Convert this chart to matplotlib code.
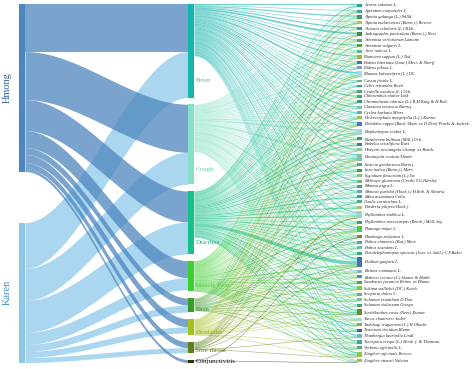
import numpy as np
import matplotlib.pyplot as plt

plt.rcParams['font.family'] = ['Liberation Serif', 'DejaVu Serif']

groups = ['Hmong', 'Karen']
group_colors = ['#4d86bd', '#8fc9ea']
group_label_colors = ['#2f5f96', '#3d8cc9']

diseases = ['Fever', 'Cough', 'Diarrhea', 'Muscle Pain', 'Rash', 'Headache',
            'Sore throat', 'Conjunctivitis']
disease_colors = ['#15b5ad', '#86e0c8', '#17c08a', '#3ccf30', '#3a9c2a',
                  '#a4c21e', '#5f7f19', '#2e3410']
disease_label_colors = ['#35b8b0', '#5ccfb0', '#1db886', '#55c840', '#3a9c2a',
                        '#98b41e', '#5f7f19', '#222222']

hmong_uses = [48, 48, 31, 17, 7, 8, 6, 3]
karen_uses = [46, 32, 32, 12, 7, 6, 5, 0]

species = [
    'Acorus calamus L.', 'Ageratum conyzoides L.', 'Alpinia galanga (L.) Willd.',
    'Alpinia malaccensis (Burm.f.) Roscoe', 'Alstonia scholaris (L.) R.Br.',
    'Andrographis paniculata (Burm.f.) Nees', 'Artemisia verlotiorum Lamotte',
    'Artemisia vulgaris L.', 'Aster indicus L.', 'Biancaea sappan (L.) Tod.',
    'Bidens biternata (Lour.) Merr. & Sherff', 'Bidens pilosa L.',
    'Blumea balsamifera (L.) DC.', 'Cassia fistula L.', 'Celtis tetrandra Roxb.',
    'Centella asiatica (L.) Urb.', 'Chloranthus elatior Link',
    'Chromolaena odorata (L.) R.M.King & H.Rob.', 'Clausena excavata Burm.f.',
    'Cyclea barbata Miers', 'Dichrocephala integrifolia (L.f.) Kuntze',
    'Duhaldea cappa (Buch.-Ham. ex D.Don) Pruski & Anderb.', 'Elephantopus scaber L.',
    'Eleutherine bulbosa (Mill.) Urb.', 'Embelia sessiliflora Kurz',
    'Hedyotis acutangula Champ. ex Benth.', 'Houttuynia cordata Thunb.',
    'Justicia gendarussa Burm.f.', 'Leea indica (Burm.f.) Merr.',
    'Lygodium flexuosum (L.) Sw.', 'Melicope glomerata (Craib) T.G.Hartley',
    'Mimosa pigra L.', 'Monosis parishii (Hook.f.) H.Rob. & Skvarla',
    'Musa acuminata Colla', 'Oxalis corniculata L.', 'Paederia pilifera Hook.f.',
    'Phyllanthus emblica L.', 'Phyllanthus microcarpus (Benth.) Müll.Arg.',
    'Plantago major L.', 'Plumbago zeylanica L.', 'Pothos chinensis (Raf.) Merr.',
    'Pothos scandens L.', 'Pseudelephantopus spicatus (Juss. ex Aubl.) C.F.Baker',
    'Psidium guajava L.', 'Ricinus communis L.', 'Rotheca serrata (L.) Steane & Mabb.',
    'Sambucus javanica Reinw. ex Blume', 'Schima wallichii (DC.) Korth.',
    'Scoparia dulcis L.', 'Solanum erianthum D.Don', 'Solanum violaceum Ortega',
    'Strobilanthes cusia (Nees) Kuntze', 'Tacca chantrieri André',
    'Tadehagi triquetrum (L.) H.Ohashi', 'Teucrium viscidum Blume',
    'Thunbergia laurifolia Lindl.', 'Tinospora crispa (L.) Hook. f. & Thomson',
    'Verbena officinalis L.', 'Zingiber officinale Roscoe', 'Zingiber ottensii Valeton',
]

species_colors = [
    '#2f9e8a', '#39a9a0', '#3b9b5e', '#a8c45a', '#2aa7a0', '#3a8f3a', '#4ca77a',
    '#5c9e48', '#56c07a', '#b0a84a', '#4b6fae', '#7aa0c8', '#a9d2ee', '#63b57a',
    '#2c9c9a', '#4caa68', '#35a88e', '#3e9c6a', '#7cc8a8', '#58b4a0', '#9dbb55',
    '#4a78b8', '#a8d0ea', '#3aa060', '#3c7db0', '#8fc68a', '#7cc8a0', '#5aa86a',
    '#3d9e4a', '#8cc06a', '#6fb86f', '#4a9e8e', '#6aa8b8', '#3aa098', '#4db08c',
    '#a8c060', '#9fd4c0', '#3a9e7a', '#4cc84a', '#7a8a2a', '#5aa0b0', '#6ab8a0',
    '#3ea868', '#4a70b0', '#8aaed0', '#4a8fb0', '#3aa878', '#8ec43a', '#5ab098',
    '#7cc090', '#4aa070', '#6a8a28', '#a8d8d0', '#9aaa40', '#4060a8', '#7ab0d8',
    '#3ea890', '#5aa86a', '#8cc840', '#a0c050',
]

# Fever, Cough, Diarrhea, Muscle Pain, Rash, Headache, Sore throat, Conjunctivitis
species_uses = [
    [1.2, .6, 1.2, 0, 0, .6, 0, 0],
    [.6, .6, .6, .6, .6, 0, 0, 0],
    [1.2, .6, .6, .6, 0, .6, 0, 0],
    [.6, .6, 1.2, .6, 0, 0, 0, 0],
    [1.2, .6, .6, 0, 0, .6, 0, 0],
    [1.8, .6, .6, 0, 0, .6, .6, 0],
    [.6, .6, .6, .6, 0, .6, 0, 0],
    [1.2, .6, 0, .6, .6, 0, 0, 0],
    [.6, 1.2, .6, 0, 0, .6, 0, 0],
    [1.2, .6, .6, .6, 0, 0, .6, 0],
    [.6, .6, .6, .6, .6, 0, 0, 0],
    [.6, .6, .6, 0, .6, 0, 0, 0],
    [1.8, 1.2, .6, 1.2, 0, .6, .6, 0],
    [.6, .6, 1.2, 0, 0, 0, 0, 0],
    [.6, .6, .6, .6, 0, 0, 0, 0],
    [.6, .6, .6, 0, .6, 0, .6, 0],
    [1.2, .6, 0, .6, 0, .6, 0, 0],
    [.6, .6, .6, .6, .6, 0, 0, 0],
    [1.2, .6, .6, 0, 0, .6, 0, 0],
    [1.2, .6, .6, 0, 0, 0, 0, 0],
    [.6, .6, .6, .6, 0, 0, .6, 0],
    [1.2, 1.2, .6, .6, 0, .6, .6, 0],
    [1.2, 1.8, 1.2, .6, .6, .6, 0, 0],
    [.6, .6, 1.2, 0, 0, .6, 0, 0],
    [.6, .6, 1.2, .6, 0, 0, 0, 0],
    [1.2, .6, .6, 0, 0, 0, .6, 0],
    [1.2, 2.4, 1.2, .6, .6, .6, .6, 0],
    [.6, .6, .6, .6, .6, 0, 0, 0],
    [.6, .6, 1.2, .6, 0, 0, 0, 0],
    [.6, 1.2, .6, 0, 0, .6, 0, 0],
    [1.2, .6, .6, .6, 0, 0, 0, 0],
    [.6, .6, .6, 0, .6, 0, 0, 0],
    [1.2, .6, .6, .6, 0, 0, 0, 0],
    [.6, .6, 1.2, 0, 0, 0, 0, 0],
    [.6, .6, .6, .6, .6, 0, 0, 0],
    [.6, .6, 1.2, .6, 0, 0, 0, 0],
    [1.2, 2.4, 1.2, .6, 0, .6, 1.2, 0],
    [.6, .6, .6, .6, 0, .6, 0, 0],
    [1.2, 1.2, 1.2, 1.2, .6, .6, 0, 0],
    [.6, .6, .6, .6, .6, 0, 0, .6],
    [.6, .6, .6, .6, .6, 0, 0, 0],
    [.6, .6, .6, .6, 0, .6, 0, 0],
    [.6, 1.2, .6, .6, 0, 0, 0, 0],
    [1.8, 1.8, 3.6, 1.2, .6, .6, .6, 0],
    [.6, .6, .6, .6, .6, 0, 0, 0],
    [.6, .6, .6, .6, 0, .6, 0, 0],
    [.6, .6, 0, 1.2, .6, 0, 0, 0],
    [1.2, .6, 1.2, .6, 0, .6, 0, 0],
    [.6, .6, .6, .6, 0, .6, 0, 0],
    [.6, .6, .6, .6, .6, 0, 0, 0],
    [.6, 1.2, 0, .6, 0, .6, 0, 0],
    [1.2, 1.2, 1.2, 1.2, .6, .6, 0, 0],
    [.6, .6, .6, .6, 0, .6, 0, 0],
    [.6, .6, 1.2, .6, 0, 0, 0, 0],
    [.6, .6, .6, .6, .6, 0, 0, 0],
    [1.2, .6, .6, .6, 0, 0, .6, 0],
    [1.2, .6, .6, .6, 0, .6, 0, 0],
    [.6, .6, .6, .6, .6, 0, 0, 0],
    [1.2, 1.2, 1.2, .6, 0, .6, .6, 0],
    [.6, .6, .6, .6, 0, 0, 0, .6],
]

# ---------------- layout ----------------
top, bottom = 3.5, 362.5
x_left, x_mid, x_right = 19, 188, 357
node_w = [6, 6, 5]


def stack(sizes):
    sizes = np.asarray(sizes, dtype=float)
    gap = (bottom - top - sizes.sum()) / (len(sizes) - 1)
    return top + np.concatenate([[0], np.cumsum(sizes[:-1] + gap)])


def band(ax, x0, x1, ya, yb, w, color, alpha):
    x = np.linspace(x0, x1, 80)
    t = (x - x0) / (x1 - x0)
    s = t * t * (3 - 2 * t)
    y = ya + (yb - ya) * s
    ax.fill_between(x, y, y + w, color=color, alpha=alpha, lw=0)


group_flows = np.array([hmong_uses, karen_uses], dtype=float)
uses = np.array(species_uses, dtype=float)

group_size = group_flows.sum(axis=1)
dis_size = np.maximum(group_flows.sum(axis=0), uses.sum(axis=0))
sp_size = uses.sum(axis=1)

g_y = stack(group_size)
d_y = stack(dis_size)
s_y = stack(sp_size)

fig = plt.figure(figsize=(4.74, 3.69), dpi=100)
ax = fig.add_axes([0, 0, 1, 1])
ax.set_xlim(0, 474)
ax.set_ylim(369, 0)
ax.axis('off')

# group -> disease
d_in = d_y.copy()
for d in range(len(diseases)):
    for g in range(len(groups)):
        v = group_flows[g, d]
        if v <= 0:
            continue
        src = g_y[g] + group_flows[g, :d].sum()
        band(ax, x_left + node_w[0], x_mid, src, d_in[d], v, group_colors[g], 0.75)
        d_in[d] += v

# disease -> species
d_out = d_y.copy()
for d in range(len(diseases)):
    for s in range(len(species)):
        v = uses[s, d]
        if v <= 0:
            continue
        tgt = s_y[s] + uses[s, :d].sum()
        band(ax, x_mid + node_w[1], x_right, d_out[d], tgt, v, disease_colors[d], 0.6)
        d_out[d] += v

# nodes
for g, name in enumerate(groups):
    ax.add_patch(plt.Rectangle((x_left, g_y[g]), node_w[0], group_size[g],
                               color=group_colors[g], lw=0))
    ax.text(7, g_y[g] + group_size[g] / 2, name, rotation=90, ha='center', va='center',
            fontsize=7.5, color=group_label_colors[g])

for d, name in enumerate(diseases):
    ax.add_patch(plt.Rectangle((x_mid, d_y[d]), node_w[1], dis_size[d],
                               color=disease_colors[d], lw=0))
    ax.text(x_mid + node_w[1] + 1.5, d_y[d] + 0.82 * dis_size[d], name,
            ha='left', va='center', fontsize=5, color=disease_label_colors[d])

for s, name in enumerate(species):
    ax.add_patch(plt.Rectangle((x_right, s_y[s]), node_w[2], sp_size[s],
                               color=species_colors[s], lw=0))
    ax.text(x_right + node_w[2] + 2, s_y[s] + sp_size[s] / 2, name, ha='left', va='center',
            fontsize=3.2, style='italic', color='#222222')

fig.savefig('out.png', dpi=100)
